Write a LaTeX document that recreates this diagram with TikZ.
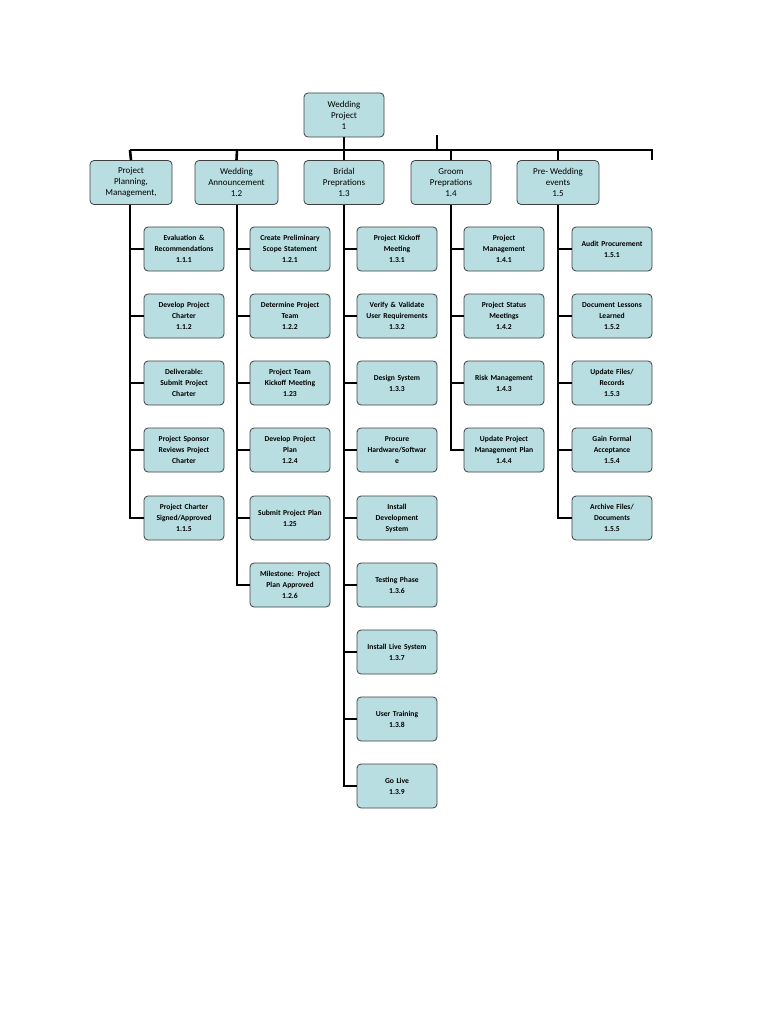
\documentclass[tikz,border=0pt]{standalone}
\usepackage{fontspec}
\setmainfont{Carlito}
\begin{document}
\begin{tikzpicture}[x=1pt,y=-1pt,
 box/.style={draw=black!75,line width=0.8pt,fill=boxc,rounded corners=4pt,align=center,inner sep=1pt},
 top/.style={box,minimum width=80pt,minimum height=44pt,font=\fontsize{9}{11}\selectfont},
 kid/.style={box,minimum width=80pt,minimum height=44pt,text width=78pt,font=\fontsize{7.6}{11}\selectfont\bfseries},
 ln/.style={line width=2.6pt}]
\definecolor{boxc}{HTML}{B9DEE2}
\useasboundingbox (0,0) rectangle (768,1024);
\node[top] (r) at (344,115) {Wedding\\Project\\1};
\node[top,minimum width=82pt] (a) at (131,182.5) {Project\\Planning,\\Management,};
\node[top,minimum width=83pt] (b) at (236.5,182.5) {Wedding\\Announcement\\1.2};
\node[top] (c) at (344,182.5) {Bridal\\Preprations\\1.3};
\node[top] (d) at (451,182.5) {Groom\\Preprations\\1.4};
\node[top,minimum width=82pt] (e) at (558,182.5) {Pre- Wedding\\events\\1.5};
\coordinate (bl) at (130,150); \coordinate (br) at (652,150);
\coordinate (brt) at (652,160); \coordinate (tk) at (437,135); \coordinate (tkb) at (437,150);
\draw[ln] (r.south) -- (344,150);
\draw[ln] (bl) -- (br) -- (brt);
\draw[ln] (tk) -- (tkb);
\foreach \n/\x in {a/130,b/237,c/344,d/451,e/558} \draw[ln] (\x,150) -- (\n.north);
% column 1
\foreach \i/\t/\y in {1/{Evaluation \&\\Recommendations\\1.1.1}/249,2/{Develop Project\\Charter\\1.1.2}/316,3/{Deliverable:\\Submit Project\\Charter}/383,4/{Project Sponsor\\Reviews Project\\Charter}/450,5/{Project Charter\\Signed/Approved\\1.1.5}/518}
 {\node[kid] (a\i) at (184,\y) {\t}; \draw[ln] (130,205) |- (a\i.west);}
\foreach \i/\t/\y in {1/{Create Preliminary\\Scope Statement\\1.2.1}/249,2/{Determine Project\\Team\\1.2.2}/316,3/{Project Team\\Kickoff Meeting\\1.23}/383,4/{Develop Project\\Plan\\1.2.4}/450,5/{Submit Project Plan\\1.25}/518,6/{Milestone: Project\\Plan Approved\\1.2.6}/585}
 {\node[kid] (b\i) at (290,\y) {\t}; \draw[ln] (237,205) |- (b\i.west);}
\foreach \i/\t/\y in {1/{Project Kickoff\\Meeting\\1.3.1}/249,2/{Verify \& Validate\\User Requirements\\1.3.2}/316,3/{Design System\\1.3.3}/383,4/{Procure\\Hardware/Softwar\\e}/450,5/{Install\\Development\\System}/518,6/{Testing Phase\\1.3.6}/585,7/{Install Live System\\1.3.7}/652,8/{User Training\\1.3.8}/719,9/{Go Live\\1.3.9}/786}
 {\node[kid] (c\i) at (397,\y) {\t}; \draw[ln] (344,205) |- (c\i.west);}
\foreach \i/\t/\y in {1/{Project\\Management\\1.4.1}/249,2/{Project Status\\Meetings\\1.4.2}/316,3/{Risk Management\\1.4.3}/383,4/{Update Project\\Management Plan\\1.4.4}/450}
 {\node[kid] (d\i) at (504,\y) {\t}; \draw[ln] (451,205) |- (d\i.west);}
\foreach \i/\t/\y in {1/{Audit Procurement\\1.5.1}/249,2/{Document Lessons\\Learned\\1.5.2}/316,3/{Update Files/\\Records\\1.5.3}/383,4/{Gain Formal\\Acceptance\\1.5.4}/450,5/{Archive Files/\\Documents\\1.5.5}/518}
 {\node[kid] (e\i) at (612,\y) {\t}; \draw[ln] (558,205) |- (e\i.west);}
\end{tikzpicture}
\end{document}
